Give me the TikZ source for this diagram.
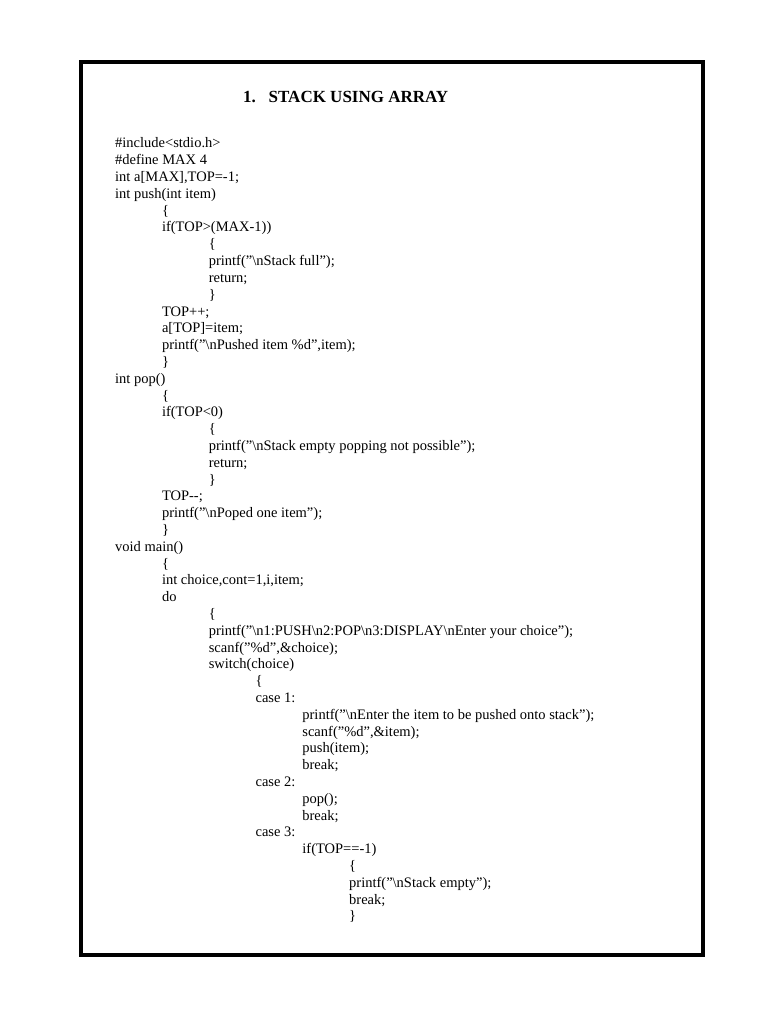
\documentclass[tikz,border=0pt]{standalone}
\usepackage{fontspec}
\setmainfont{Liberation Serif}
\begin{document}
\begin{tikzpicture}[x=1pt,y=-1pt,
  code/.style={anchor=base west,inner sep=0pt,font=\fontsize{14.5}{16}\selectfont}]
\useasboundingbox (0,0) rectangle (768,1024);
\draw[line width=4pt] (81,62) rectangle (703,955);
\node[anchor=base west,inner sep=0pt,font=\fontsize{17}{20}\selectfont\bfseries] (title) at (243,103) {1.\ \ \ STACK USING ARRAY};
\foreach \lv/\t [count=\i from 0] in {
0/\#include<stdio.h>,
0/\#define MAX 4,
0/{int a[MAX],TOP=-1;},
0/int push(int item),
1/\{,
1/if(TOP>(MAX-1)),
2/\{,
2/printf("\textbackslash nStack full");,
2/return;,
2/\},
1/TOP++;,
1/{a[TOP]=item;},
1/{printf("\textbackslash nPushed item \%d",item);},
1/\},
0/int pop(),
1/\{,
1/if(TOP<0),
2/\{,
2/printf("\textbackslash nStack empty popping not possible");,
2/return;,
2/\},
1/TOP-{}-;,
1/printf("\textbackslash nPoped one item");,
1/\},
0/void main(),
1/\{,
1/{int choice,cont=1,i,item;},
1/do,
2/\{,
2/printf("\textbackslash n1:PUSH\textbackslash n2:POP\textbackslash n3:DISPLAY\textbackslash nEnter your choice");,
2/{scanf("\%d",\&choice);},
2/switch(choice),
3/\{,
3/case 1:,
4/printf("\textbackslash nEnter the item to be pushed onto stack");,
4/{scanf("\%d",\&item);},
4/push(item);,
4/break;,
3/case 2:,
4/pop();,
4/break;,
3/case 3:,
4/if(TOP==-1),
5/\{,
5/printf("\textbackslash nStack empty");,
5/break;,
5/\}}
  \node[code] (l\i) at ({115+46.8*\lv},{148+16.8*\i}) {\t};
\end{tikzpicture}
\end{document}
